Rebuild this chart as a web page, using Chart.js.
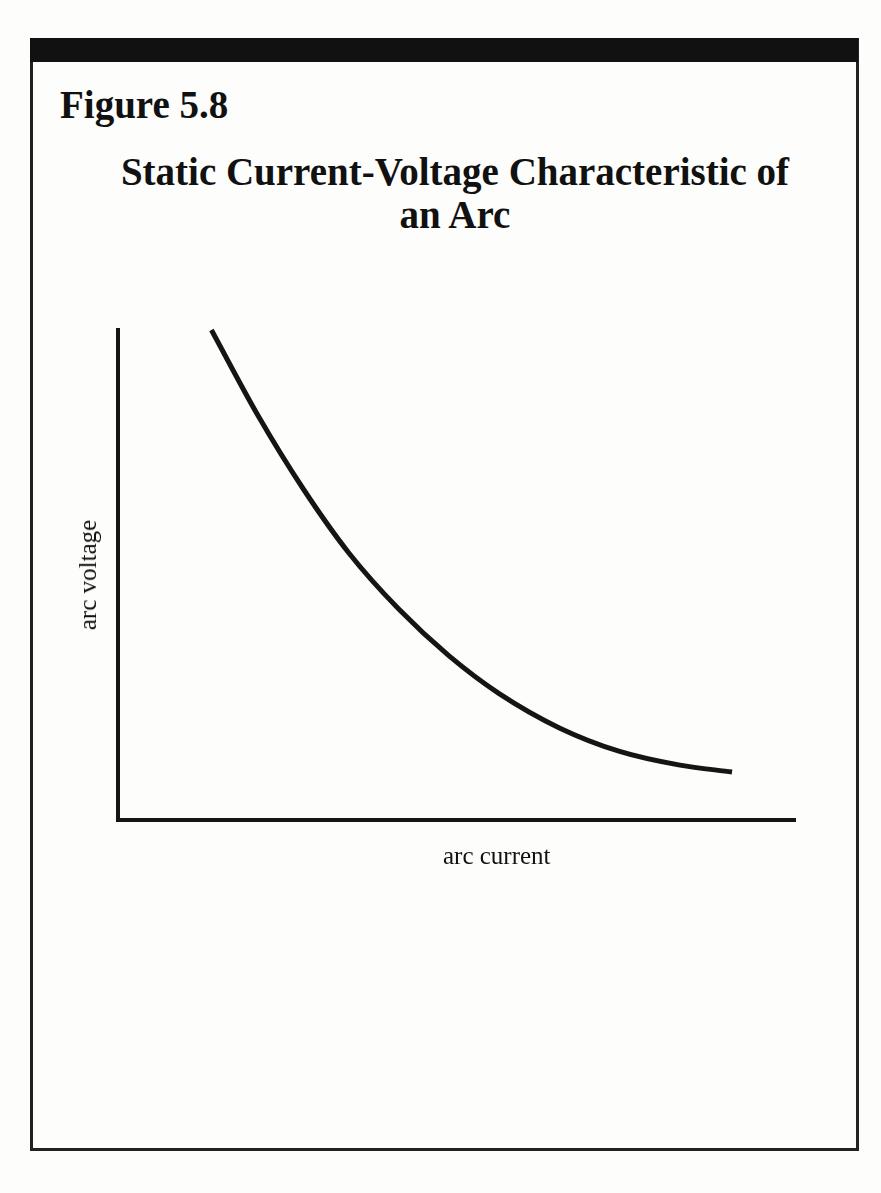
<!DOCTYPE html>
<html>
<head>
<meta charset="utf-8">
<script src="https://cdn.jsdelivr.net/npm/chart.js@4/dist/chart.umd.min.js"></script>
<style>
  body { margin: 0; background: #fdfdfb; font-family: "Liberation Serif", "DejaVu Serif", serif; }
  #pagina { position: relative; width: 881px; height: 1193px; }
  #barra { position: absolute; left: 30px; top: 38px; width: 828px; height: 24px; background: #111; }
  #moldura { position: absolute; left: 30px; top: 38px; width: 823px; height: 1110px; border-left: 3px solid #222; border-right: 3px solid #222; border-bottom: 3px solid #222; }
  #figura { position: absolute; left: 60px; top: 82px; font-size: 39px; font-weight: bold; color: #111; }
  #titulo { position: absolute; left: 60px; width: 790px; top: 150px; text-align: center; font-size: 39px; font-weight: bold; line-height: 43px; color: #111; }
  #rotulo_y { position: absolute; left: 88px; top: 575px; transform: translate(-50%, -50%) rotate(-90deg); font-size: 25px; color: #111; white-space: nowrap; }
  #rotulo_x { position: absolute; left: 443px; top: 842px; font-size: 25px; color: #111; }
  canvas { position: absolute; left: 0; top: 0; }
</style>
</head>
<body>
<div id="pagina">
  <div id="moldura"></div>
  <div id="barra"></div>
  <div id="figura">Figure 5.8</div>
  <div id="titulo">Static Current-Voltage Characteristic of<br>an Arc</div>
  <canvas id="grafico" width="881" height="1193"></canvas>
  <div id="rotulo_y">arc voltage</div>
  <div id="rotulo_x">arc current</div>
</div>
<script>
// arc current (arbitrary units) and arc voltage
const corrente = [13.8, 20.7, 27.4, 34.1, 41.5, 48.9, 56.3, 65.2, 74.1, 83.0, 90.7];
const tensao = [100, 82.5, 67.5, 54.5, 43.0, 33.5, 25.8, 18.8, 14.0, 11.2, 9.8];

var pontos = [];
for (var i = 0; i < corrente.length; i++) {
    pontos.push({ x: corrente[i], y: tensao[i] });
}

new Chart(document.getElementById('grafico'), {
    type: 'scatter',
    data: {
        datasets: [{
            data: pontos,
            showLine: true,
            cubicInterpolationMode: 'monotone',
            borderColor: '#151515',
            borderWidth: 5,
            pointRadius: 0,
            clip: false
        }]
    },
    options: {
        responsive: false,
        animation: false,
        layout: { padding: { left: 118, top: 330, right: 86, bottom: 373 } },
        plugins: { legend: { display: false }, tooltip: { enabled: false } },
        scales: {
            x: {
                min: 0, max: 100,
                ticks: { display: false },
                grid: { display: false, drawTicks: false },
                border: { color: '#151515', width: 4 }
            },
            y: {
                min: 0, max: 100,
                ticks: { display: false },
                grid: { display: false, drawTicks: false },
                border: { color: '#151515', width: 4 }
            }
        }
    }
});
</script>
</body>
</html>
